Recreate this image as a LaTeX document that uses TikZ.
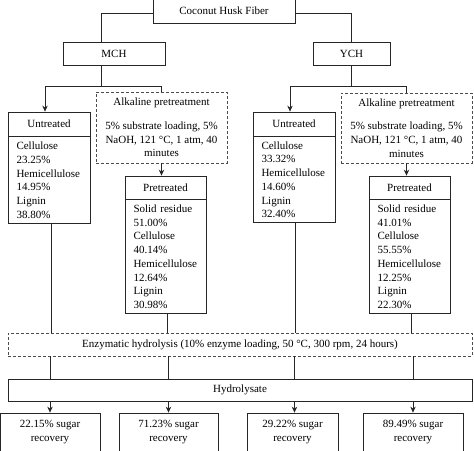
\documentclass[tikz,border=0pt]{standalone}
\usepackage{fontspec}
\setmainfont{Liberation Serif}
\usetikzlibrary{arrows.meta}
\tikzset{
  box/.style={draw=black!85, line width=0.8pt, rectangle, inner sep=0pt, align=center, font=\fontsize{11}{13.7}\selectfont},
  dashbox/.style={box, draw=black!70, dash pattern=on 3pt off 2pt},
  listbox/.style={box, anchor=north, align=left, inner xsep=8.5pt},
  link/.style={draw=black!85, line width=0.8pt},
  arr/.style={link, -{Stealth[length=6pt,width=5.5pt]}}
}
\begin{document}
\begin{tikzpicture}[x=1pt, y=-1pt]
        \useasboundingbox (0,0) rectangle (474,450);
        %% Source and the two fibres
        \node[box, minimum width=142pt, minimum height=25pt] (fiber) at (224,10.5) {Coconut Husk Fiber};
        \node[box, minimum width=102pt, minimum height=23pt] (mch) at (114,53.5) {MCH};
        \node[box, minimum width=77pt, minimum height=23pt] (ych) at (351.5,53.5) {YCH};
        \coordinate (jL) at (101,86);
        \coordinate (jR) at (351.5,86);
        %% MCH branch
        \node[box, minimum width=82pt, minimum height=24pt] (untL) at (49,124) {Untreated};
        \node[listbox, text width=65pt, minimum height=87pt] (untLb) at (untL.south) {Cellulose\\23.25\%\\Hemicellulose\\14.95\%\\Lignin\\38.80\%};
        \node[dashbox, minimum width=131pt, minimum height=71pt] (alkL) at (161.5,127.5) {Alkaline pretreatment\\[10pt]5\% substrate loading, 5\%\\NaOH, 121 °C, 1 atm, 40\\minutes};
        \node[box, minimum width=81pt, minimum height=23pt] (preL) at (165.5,187.5) {Pretreated};
        \node[listbox, text width=64pt, minimum height=114pt] (preLb) at (preL.south) {Solid residue\\51.00\%\\Cellulose\\40.14\%\\Hemicellulose\\12.64\%\\Lignin\\30.98\%};
        %% YCH branch
        \node[box, minimum width=82pt, minimum height=24pt] (untR) at (294,124) {Untreated};
        \node[listbox, text width=65pt, minimum height=86pt] (untRb) at (untR.south) {Cellulose\\33.32\%\\Hemicellulose\\14.60\%\\Lignin\\32.40\%};
        \node[dashbox, minimum width=131pt, minimum height=70pt] (alkR) at (406.5,128) {Alkaline pretreatment\\[10pt]5\% substrate loading, 5\%\\NaOH, 121 °C, 1 atm, 40\\minutes};
        \node[box, minimum width=81pt, minimum height=23pt] (preR) at (409.5,187.5) {Pretreated};
        \node[listbox, text width=64pt, minimum height=114pt] (preRb) at (preR.south) {Solid residue\\41.01\%\\Cellulose\\55.55\%\\Hemicellulose\\12.25\%\\Lignin\\22.30\%};
        %% Hydrolysis and results
        \node[dashbox, minimum width=464pt, minimum height=23pt] (enz) at (240,344.5) {Enzymatic hydrolysis (10\% enzyme loading, 50 °C, 300 rpm, 24 hours)};
        \node[box, minimum width=464pt, minimum height=22pt] (hyd) at (240,390) {Hydrolysate};
        \node[box, minimum width=100pt, minimum height=38pt] (s1) at (50,432) {22.15\% sugar\\recovery};
        \node[box, minimum width=99pt, minimum height=38pt] (s2) at (168.5,432) {71.23\% sugar\\recovery};
        \node[box, minimum width=91pt, minimum height=38pt] (s3) at (292.5,432) {29.22\% sugar\\recovery};
        \node[box, minimum width=100pt, minimum height=38pt] (s4) at (413,432) {89.49\% sugar\\recovery};
        %% Connectors
        \draw[link] ([yshift=-3pt]fiber.west) -| (mch.north -| jL);
        \draw[link] ([yshift=-3pt]fiber.east) -| (ych.north);
        \draw[link] (mch.south -| jL) -- (jL);
        \draw[link] (ych.south) -- (jR);
        \draw[arr] (jL) -| ([xshift=-4pt]untL.north);
        \draw[link] (jL) -| (alkL.north);
        \draw[arr] (jR) -| ([xshift=-4pt]untR.north);
        \draw[link] (jR) -| (alkR.north);
        \draw[arr] (alkL.south) -- (alkL.south |- preL.north);
        \draw[arr] (alkR.south) -- (alkR.south |- preR.north);
        \draw[link] ([xshift=2pt]untLb.south) -- ([xshift=2pt]untLb.south |- enz.north);
        \draw[link] ([xshift=2pt]preLb.south) -- ([xshift=2pt]preLb.south |- enz.north);
        \draw[link] ([xshift=1pt]untRb.south) -- ([xshift=1pt]untRb.south |- enz.north);
        \draw[link] ([xshift=2pt]preRb.south) -- ([xshift=2pt]preRb.south |- enz.north);
        \draw[link] (enz.south -| s1.north) -- (hyd.north -| s1.north);
        \draw[link] (enz.south -| s2.north) -- (hyd.north -| s2.north);
        \draw[link] ([xshift=2pt]enz.south -| s3.north) -- ([xshift=2pt]hyd.north -| s3.north);
        \draw[link] (enz.south -| s4.north) -- (hyd.north -| s4.north);
        \draw[arr] (hyd.south -| s1.north) -- (s1.north);
        \draw[arr] (hyd.south -| s2.north) -- (s2.north);
        \draw[arr] ([xshift=2pt]hyd.south -| s3.north) -- ([xshift=2pt]s3.north);
        \draw[arr] (hyd.south -| s4.north) -- (s4.north);
\end{tikzpicture}
\end{document}
